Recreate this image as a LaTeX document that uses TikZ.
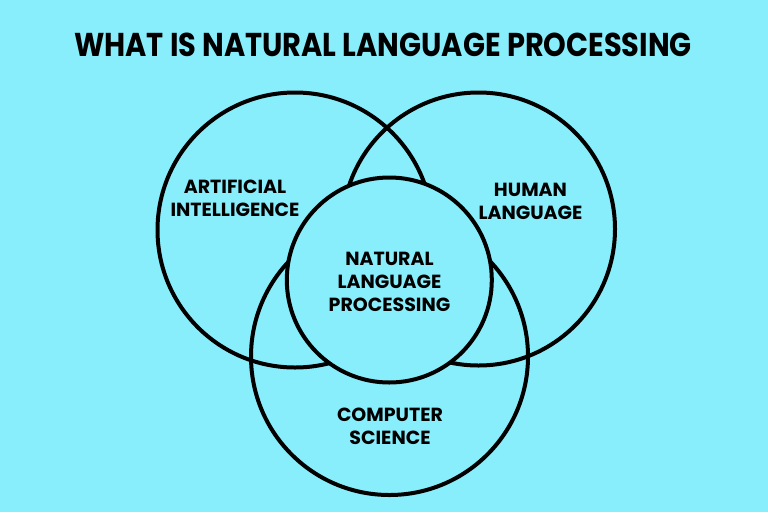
\documentclass[tikz,border=0pt]{standalone}
\usepackage{fontspec}
\setmainfont{Poppins}[BoldFont={Poppins Bold}]
\definecolor{bgcyan}{RGB}{136,238,251}
\tikzset{
  ring/.style={circle, draw=black, line width=4pt, inner sep=0pt},
  lbl/.style={font=\fontsize{19}{23}\selectfont\bfseries, align=center, text=black, inner sep=0pt},
  ttl/.style={font=\fontsize{33}{38}\selectfont\bfseries, text=black, inner sep=0pt, xscale=0.875}
}
\begin{document}
\begin{tikzpicture}[x=1pt,y=-1pt]
\fill[bgcyan] (0,0) rectangle (768,512);
\useasboundingbox (0,0) rectangle (768,512);
\node[ttl] (title) at (383,44.5) {WHAT IS NATURAL LANGUAGE PROCESSING};
\node[ring, minimum size=275pt] (ai) at (295,230) {};
\node[ring, minimum size=273pt] (hl) at (478.5,229) {};
\node[ring, minimum size=277pt] (cs) at (389.5,356.5) {};
\node[ring, fill=bgcyan, minimum size=205pt] (nlp) at (389.3,280) {};
\node[lbl] (ailbl) at (235,198.5) {ARTIFICIAL\\INTELLIGENCE};
\node[lbl] (hllbl) at (530.5,201) {HUMAN\\LANGUAGE};
\node[lbl] (nlplbl) at (389.5,281.5) {NATURAL\\LANGUAGE\\PROCESSING};
\node[lbl] (cslbl) at (390,426) {COMPUTER\\SCIENCE};
\end{tikzpicture}
\end{document}
